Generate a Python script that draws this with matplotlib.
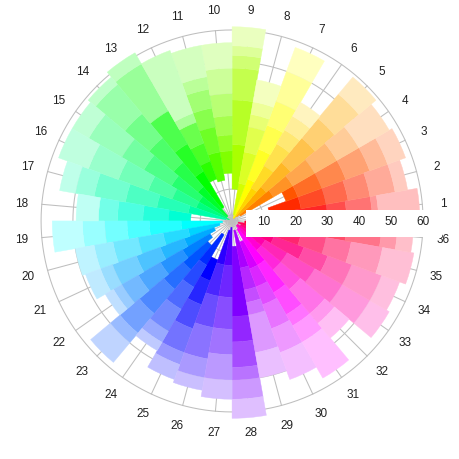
import colorsys
import numpy as np
import matplotlib
matplotlib.use('Agg')
import matplotlib.pyplot as plt
from matplotlib.patches import Rectangle

plt.rcParams['font.family'] = ['Liberation Sans', 'DejaVu Sans']

# 36 hue sectors, stacked from saturated (inside) to pale (outside)
sectors = list(range(1, 37))
sat_levels = [1.0, 0.85, 0.7, 0.55, 0.4, 0.25]

# radius where each sector starts, then the outer radius after each saturation level
r_base = [5, 12, 18, 3, 2, 1, 1, 2, 10, 15, 13, 14, 5, 2, 2, 1, 2, 13,
          3, 4, 6, 8, 10, 5, 13, 3, 2, 8, 3, 7, 3, 2, 2, 3, 2, 4]
r_s100 = [20, 22, 22, 15, 14, 12, 14, 12, 24, 22, 22, 20, 18, 14, 12, 12, 14, 20,
          16, 14, 16, 18, 20, 16, 20, 14, 14, 30, 15, 16, 16, 12, 12, 14, 12, 16]
r_s85 = [30, 30, 30, 22, 24, 20, 24, 22, 38, 27, 30, 26, 28, 24, 22, 20, 24, 28,
         26, 22, 24, 26, 28, 24, 28, 24, 24, 38, 22, 22, 26, 20, 20, 24, 22, 26]
r_s70 = [36, 37, 38, 30, 34, 28, 32, 30, 48, 33, 36, 33, 40, 34, 32, 28, 34, 36,
         33, 30, 32, 34, 38, 32, 36, 34, 34, 46, 26, 28, 34, 28, 30, 32, 30, 36]
r_s55 = [44, 44, 46, 38, 42, 33, 40, 34, 52, 40, 42, 33, 40, 44, 40, 38, 44, 42,
         40, 38, 40, 40, 46, 40, 44, 44, 42, 50, 30, 36, 38, 38, 40, 40, 38, 47]
r_s40 = [46, 52, 52, 46, 52, 38, 50, 38, 55, 48, 46, 36, 57, 56, 52, 48, 50, 42,
         47, 44, 44, 43, 50, 44, 48, 50, 50, 56, 42, 44, 44, 42, 50, 50, 48, 52]
r_s25 = [59, 56, 58, 57, 59, 43, 58, 45, 61, 56, 56, 57, 61, 59, 58, 58, 55, 49,
         56.5, 50, 49, 46, 58, 47, 53, 54, 56, 62, 50, 53, 57, 48, 57, 56, 58, 57]
radial_ticks = [10, 20, 30, 40, 50, 60]

rmax = 62.5
grid_col = '#BEBEBE'

fig = plt.figure(figsize=(4.6, 4.6), dpi=100)
ax = fig.add_axes([0.072, 0.085, 0.865, 0.865], projection='polar')
ax.set_ylim(0, rmax)
ax.set_xticks([])
ax.set_yticks([])
ax.grid(False)
ax.spines['polar'].set_visible(False)

step = np.radians(10)
theta = np.array([(k - 1) * step for k in sectors])
centers = theta + step / 2

# grid behind the bars
ring = np.linspace(0, 2 * np.pi, 721)
for r in radial_ticks:
    ax.plot(ring, np.full_like(ring, r), color=grid_col, lw=0.75, zorder=1)
for a in centers:
    ax.plot([a, a], [0, 60], color=grid_col, lw=0.75, zorder=1)

prev = np.array(r_base, dtype=float)
for sat, top in zip(sat_levels, [r_s100, r_s85, r_s70, r_s55, r_s40, r_s25]):
    top = np.array(top, dtype=float)
    cols = [colorsys.hsv_to_rgb(((k - 1) * 10 % 360) / 360, sat, 1.0) for k in sectors]
    ax.bar(theta, top - prev, width=step, bottom=prev, align='edge',
           color=cols, edgecolor=cols, linewidth=0.3, zorder=3)
    prev = top

# sector labels
for k, a in zip(sectors, centers):
    ax.text(a, 66.5, str(k), ha='center', va='center', fontsize=8.5,
            color='#222222', clip_on=False)

# boxed radial labels
x0 = 0.5 + 0.5 * 4.5 / rmax
x1 = 0.5 + 0.5 * 66 / rmax
ax.add_artist(Rectangle((x0, 0.5 - 0.040), x1 - x0, 0.068, transform=ax.transAxes,
                        facecolor='white', edgecolor='none', zorder=6, clip_on=False))
for r in radial_ticks:
    ax.text(0, r, str(r), ha='center', va='center', fontsize=8.5,
            color='#222222', zorder=7, clip_on=False)

fig.savefig('out.png', dpi=100)
